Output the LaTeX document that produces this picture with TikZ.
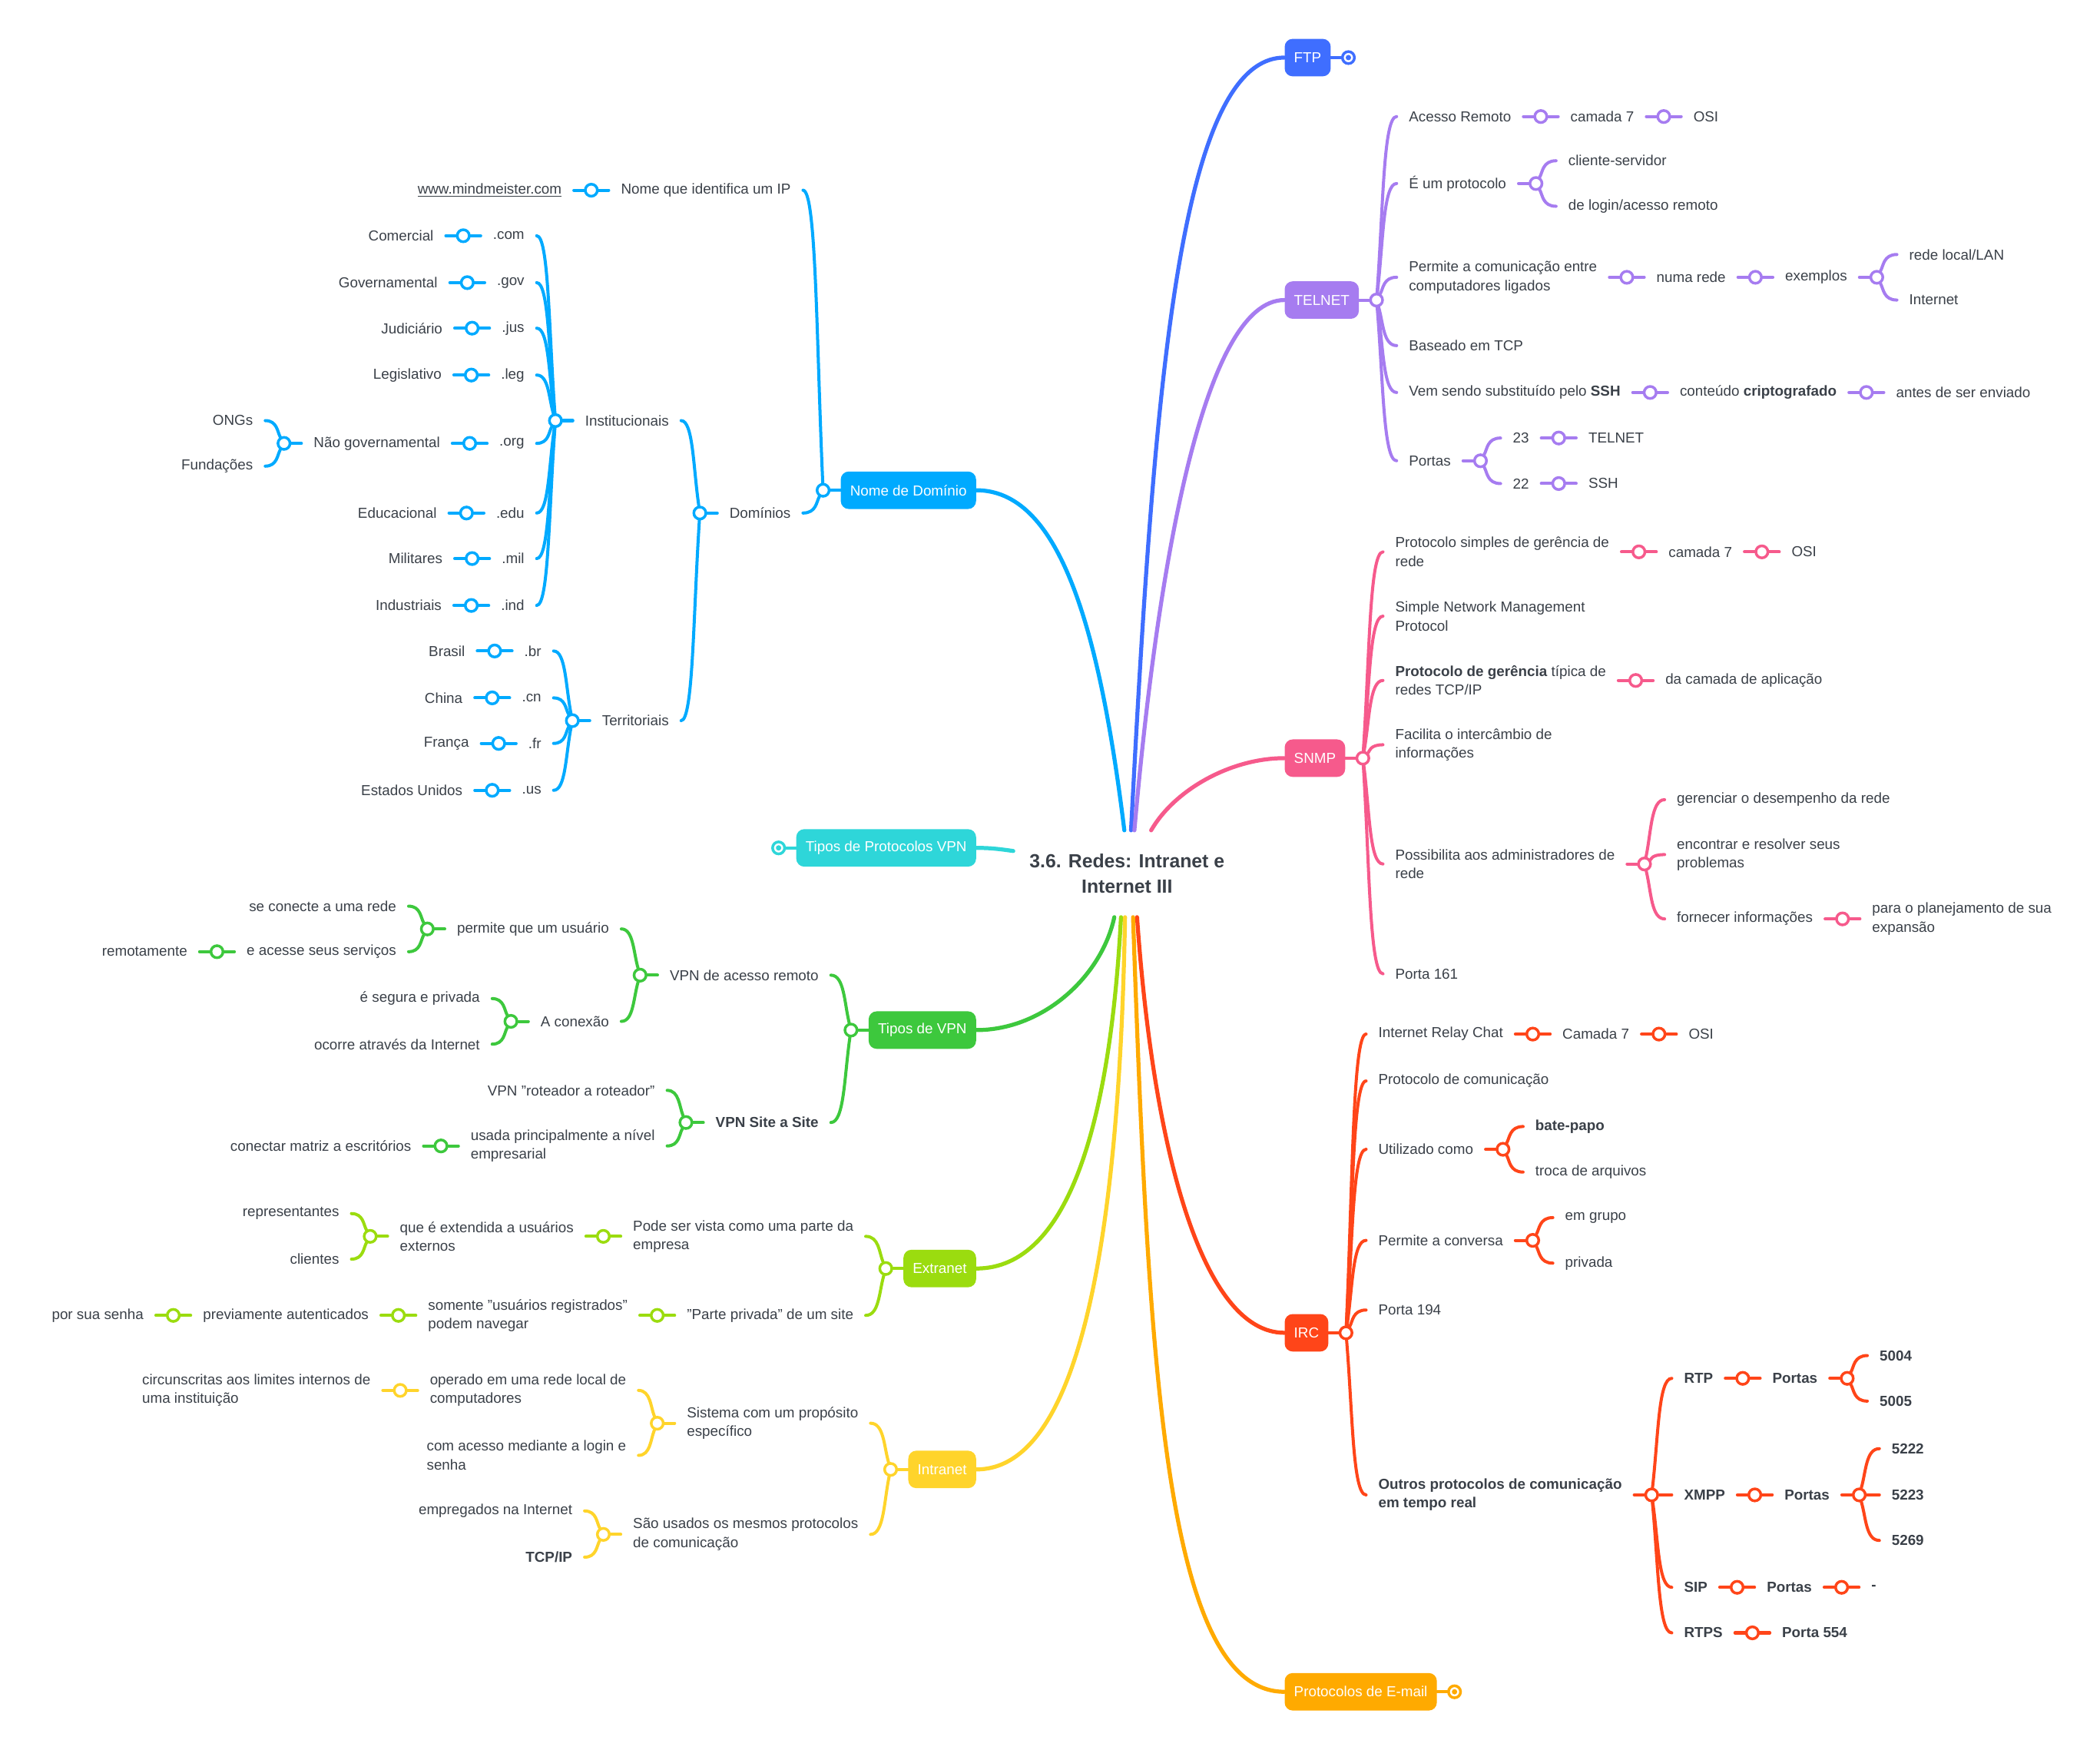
\documentclass[tikz,border=0pt]{standalone}
\usepackage{fontspec}
\setmainfont{Liberation Sans}
\usetikzlibrary{positioning,calc}
\pgfdeclarelayer{fundo}
\pgfsetlayers{fundo,main}
\definecolor{tinta}{HTML}{3A4048}
\definecolor{corDominio}{HTML}{00AAFF}
\definecolor{corFtp}{HTML}{3F6EFF}
\definecolor{corTelnet}{HTML}{A67CF0}
\definecolor{corSnmp}{HTML}{F65A8C}
\definecolor{corProtVpn}{HTML}{2ED6D9}
\definecolor{corVpn}{HTML}{3DC83D}
\definecolor{corExtra}{HTML}{9BDC0F}
\definecolor{corIntra}{HTML}{FFD42B}
\definecolor{corEmail}{HTML}{FFAA00}
\definecolor{corIrc}{HTML}{FF4519}
\colorlet{br}{corDominio}

\begin{document}
\begin{tikzpicture}[
    x=1pt, y=-1pt,
    node distance=7.5pt,
    font=\fontsize{10.8}{14}\selectfont,
    texto/.style={text=tinta, inner xsep=9pt, inner ysep=1pt, align=left},
    negrito/.style={texto, font=\fontsize{10.8}{14}\selectfont\bfseries},
    titulo/.style={text=tinta, align=center, inner xsep=4pt, inner ysep=17.5pt,
      font=\fontsize{14.2}{19}\selectfont\bfseries},
    ramo/.style={fill=br, text=white, rounded corners=6pt, minimum height=28pt,
      inner xsep=7pt, inner ysep=0pt},
    bolinha/.style={circle, draw=br, fill=white, line width=2pt, minimum size=9pt,
      inner sep=0pt},
    fechado/.style={bolinha, path picture={\fill[br] (path picture bounding box.center) circle (2pt);}},
    tronco/.style={draw=br, line width=3pt, line cap=round},
    liga/.style={draw=br, line width=2.3pt, line cap=round},
    galho/.style={to path={let \p1=(\tikztostart), \p2=(\tikztotarget) in
      .. controls ({\x1+#1},{0.5*(\y1+\y2)}) and ({\x1+#1},\y2) .. (\p2)}},
    galho/.default=5pt
  ]
  \useasboundingbox (0,0) rectangle (1568,1306);

  % --- tema central ---
  \node[titulo] (centro) at (841.5,652.3) {3.6. Redes: Intranet e\\Internet III};

  % --- Nome de Domínio ---
  \begin{scope}
    \colorlet{br}{corDominio}
    \node[ramo, anchor=east] (dom) at (729,366) {Nome de Domínio};
    \node[bolinha, left=of dom] (dom-h) {};
    \node[texto, anchor=east] (ident) at ([shift={(-15,-224)}]dom-h.center) {Nome que identifica um IP};
    \node[bolinha, left=of ident] (ident-o) {};
    \node[texto, left=of ident-o] (url) {\underline{www.mindmeister.com}};
    \node[texto, anchor=east] (dmn) at ([shift={(-15,17)}]dom-h.center) {Domínios};
    \node[bolinha, left=of dmn] (dmn-h) {};
    \node[texto, anchor=east] (inst) at ([shift={(-14,-69)}]dmn-h.center) {Institucionais};
    \node[bolinha, left=of inst] (inst-h) {};
    \node[texto, anchor=east] (terr) at ([shift={(-14,155)}]dmn-h.center) {Territoriais};
    \node[bolinha, left=of terr] (terr-h) {};
    \foreach \ext/\setor/\dy [count=\i] in {.com/Comercial/-138, .gov/Governamental/-103,
        .jus/Judiciário/-69, .leg/Legislativo/-34, .org/Não governamental/17,
        .edu/Educacional/69, .mil/Militares/103, .ind/Industriais/138}{
      \node[texto, anchor=east] (ext\i) at ([shift={(-14,\dy)}]inst-h.center) {\ext};
      \node[bolinha, left=of ext\i] (ext\i-o) {};
      \node[texto, left=of ext\i-o] (set\i) {\setor};
    }
    \node[bolinha, left=of set5] (set5-h) {};
    \node[texto, anchor=east] (ongs) at ([shift={(-14,-17)}]set5-h.center) {ONGs};
    \node[texto, anchor=east] (fund) at ([shift={(-14,17)}]set5-h.center) {Fundações};
    \foreach \pais/\tld/\dy [count=\i] in {Brasil/.br/-52, China/.cn/-17, França/.fr/17,
        Estados Unidos/.us/52}{
      \node[texto, anchor=east] (tld\i) at ([shift={(-14,\dy)}]terr-h.center) {\tld};
      \node[bolinha, left=of tld\i] (tld\i-o) {};
      \node[texto, left=of tld\i-o] (pais\i) {\pais};
    }
    \begin{pgfonlayer}{fundo}
      \draw[tronco] ([xshift=-2pt]centro.north) to[out=97, in=0, out distance=160pt, in distance=60pt] (dom.east);
      \draw[liga] (dom.west) -- (dom-h);
      \foreach \f in {ident, dmn} \draw[liga] (dom-h) to[galho=-5pt] (\f.east);
      \draw[liga] (url.east) -- (ident.west);
      \draw[liga] (dmn.west) -- (dmn-h);
      \foreach \f in {inst, terr} \draw[liga] (dmn-h) to[galho=-5pt] (\f.east);
      \draw[liga] (inst.west) -- (inst-h);
      \draw[liga] (terr.west) -- (terr-h);
      \foreach \i in {1,...,8}{
        \draw[liga] (inst-h) to[galho=-5pt] (ext\i.east);
        \draw[liga] (set\i.east) -- (ext\i.west);
      }
      \draw[liga] (set5.west) -- (set5-h);
      \foreach \f in {ongs, fund} \draw[liga] (set5-h) to[galho=-5pt] (\f.east);
      \foreach \i in {1,...,4}{
        \draw[liga] (terr-h) to[galho=-5pt] (tld\i.east);
        \draw[liga] (pais\i.east) -- (tld\i.west);
      }
    \end{pgfonlayer}
  \end{scope}

  % --- FTP ---
  \begin{scope}
    \colorlet{br}{corFtp}
    \node[ramo, anchor=west] (ftp) at (959,43) {FTP};
    \node[fechado, right=of ftp] (ftp-o) {};
    \begin{pgfonlayer}{fundo}
      \draw[tronco] ([xshift=3pt]centro.north) to[out=87, in=180, out distance=320pt, in distance=80pt] (ftp.west);
      \draw[liga] (ftp.east) -- (ftp-o);
    \end{pgfonlayer}
  \end{scope}

  % --- TELNET ---
  \begin{scope}
    \colorlet{br}{corTelnet}
    \node[ramo, anchor=west] (tel) at (959,224) {TELNET};
    \node[bolinha, right=of tel] (tel-h) {};
    \foreach \nome/\dy/\txt in {acr/-137/Acesso Remoto, eup/-87/É um protocolo,
        pce/-17/{Permite a comunicação entre\\computadores ligados}, btc/34/Baseado em TCP,
        vss/69/{Vem sendo substituído pelo \textbf{SSH}}, tpo/120/Portas}
      \node[texto, anchor=west] (\nome) at ([shift={(15,\dy)}]tel-h.center) {\txt};
    \node[bolinha, right=of acr] (acr-o) {};
    \node[texto, right=of acr-o] (acr-c7) {camada 7};
    \node[bolinha, right=of acr-c7] (acr-c7-o) {};
    \node[texto, right=of acr-c7-o] (acr-osi) {OSI};
    \node[bolinha, right=of eup] (eup-h) {};
    \node[texto, anchor=west] (cls) at ([shift={(15,-17)}]eup-h.center) {cliente-servidor};
    \node[texto, anchor=west] (lgn) at ([shift={(15,17)}]eup-h.center) {de login/acesso remoto};
    \node[bolinha, right=of pce] (pce-o) {};
    \node[texto, right=of pce-o] (nrd) {numa rede};
    \node[bolinha, right=of nrd] (nrd-o) {};
    \node[texto, right=of nrd-o] (exe) {exemplos};
    \node[bolinha, right=of exe] (exe-h) {};
    \node[texto, anchor=west] (lan) at ([shift={(15,-17)}]exe-h.center) {rede local/LAN};
    \node[texto, anchor=west] (inet) at ([shift={(15,17)}]exe-h.center) {Internet};
    \node[bolinha, right=of vss] (vss-o) {};
    \node[texto, right=of vss-o] (cri) {conteúdo \textbf{criptografado}};
    \node[bolinha, right=of cri] (cri-o) {};
    \node[texto, right=of cri-o] (env) {antes de ser enviado};
    \node[bolinha, right=of tpo] (tpo-h) {};
    \node[texto, anchor=west] (p23) at ([shift={(15,-17)}]tpo-h.center) {23};
    \node[texto, anchor=west] (p22) at ([shift={(15,17)}]tpo-h.center) {22};
    \node[bolinha, right=of p23] (p23-o) {};
    \node[texto, right=of p23-o] (p23t) {TELNET};
    \node[bolinha, right=of p22] (p22-o) {};
    \node[texto, right=of p22-o] (p22t) {SSH};
    \begin{pgfonlayer}{fundo}
      \draw[tronco] ([xshift=5.5pt]centro.north) to[out=85, in=180, out distance=200pt, in distance=60pt] (tel.west);
      \draw[liga] (tel.east) -- (tel-h);
      \foreach \f in {acr, eup, pce, btc, vss, tpo} \draw[liga] (tel-h) to[galho] (\f.west);
      \draw[liga] (acr.east) -- (acr-c7.west);
      \draw[liga] (acr-c7.east) -- (acr-osi.west);
      \draw[liga] (eup.east) -- (eup-h);
      \foreach \f in {cls, lgn} \draw[liga] (eup-h) to[galho] (\f.west);
      \draw[liga] (pce.east) -- (nrd.west);
      \draw[liga] (nrd.east) -- (exe.west);
      \draw[liga] (exe.east) -- (exe-h);
      \foreach \f in {lan, inet} \draw[liga] (exe-h) to[galho] (\f.west);
      \draw[liga] (vss.east) -- (cri.west);
      \draw[liga] (cri.east) -- (env.west);
      \draw[liga] (tpo.east) -- (tpo-h);
      \foreach \f in {p23, p22} \draw[liga] (tpo-h) to[galho] (\f.west);
      \draw[liga] (p23.east) -- (p23t.west);
      \draw[liga] (p22.east) -- (p22t.west);
    \end{pgfonlayer}
  \end{scope}

  % --- SNMP ---
  \begin{scope}
    \colorlet{br}{corSnmp}
    \node[ramo, anchor=west] (snmp) at (959,566) {SNMP};
    \node[bolinha, right=of snmp] (snmp-h) {};
    \foreach \nome/\dy/\txt in {psg/-154/{Protocolo simples de gerência de\\rede},
        snm/-106/{Simple Network Management\\Protocol},
        pdg/-58/{\textbf{Protocolo de gerência} típica de\\redes TCP/IP},
        fic/-10/{Facilita o intercâmbio de\\informações},
        pad/79/{Possibilita aos administradores de\\rede}, p161/161/Porta 161}
      \node[texto, anchor=west] (\nome) at ([shift={(15,\dy)}]snmp-h.center) {\txt};
    \node[bolinha, right=of psg] (psg-o) {};
    \node[texto, right=of psg-o] (psg-c7) {camada 7};
    \node[bolinha, right=of psg-c7] (psg-c7-o) {};
    \node[texto, right=of psg-c7-o] (psg-osi) {OSI};
    \node[bolinha, right=of pdg] (pdg-o) {};
    \node[texto, right=of pdg-o] (apl) {da camada de aplicação};
    \node[bolinha, right=of pad] (pad-h) {};
    \node[texto, anchor=west] (ger) at ([shift={(15,-48)}]pad-h.center) {gerenciar o desempenho da rede};
    \node[texto, anchor=west] (enc) at ([shift={(15,-7)}]pad-h.center) {encontrar e resolver seus\\problemas};
    \node[texto, anchor=west] (forn) at ([shift={(15,41)}]pad-h.center) {fornecer informações};
    \node[bolinha, right=of forn] (forn-o) {};
    \node[texto, right=of forn-o] (plan) {para o planejamento de sua\\expansão};
    \begin{pgfonlayer}{fundo}
      \draw[tronco] ([xshift=18pt]centro.north) to[out=60, in=180, out distance=35pt, in distance=40pt] (snmp.west);
      \draw[liga] (snmp.east) -- (snmp-h);
      \foreach \f in {psg, snm, pdg, fic, pad, p161} \draw[liga] (snmp-h) to[galho] (\f.west);
      \draw[liga] (psg.east) -- (psg-c7.west);
      \draw[liga] (psg-c7.east) -- (psg-osi.west);
      \draw[liga] (pdg.east) -- (apl.west);
      \draw[liga] (pad.east) -- (pad-h);
      \foreach \f in {ger, enc, forn} \draw[liga] (pad-h) to[galho] (\f.west);
      \draw[liga] (forn.east) -- (plan.west);
    \end{pgfonlayer}
  \end{scope}

  % --- IRC ---
  \begin{scope}
    \colorlet{br}{corIrc}
    \node[ramo, anchor=west] (irc) at (959,995) {IRC};
    \node[bolinha, right=of irc] (irc-h) {};
    \foreach \nome/\dy/\txt in {irc1/-223/Internet Relay Chat, irc2/-188/Protocolo de comunicação,
        irc3/-137/Utilizado como, irc4/-69/Permite a conversa, irc5/-17/Porta 194}
      \node[texto, anchor=west] (\nome) at ([shift={(15,\dy)}]irc-h.center) {\txt};
    \node[negrito, anchor=west] (otr) at ([shift={(15,121)}]irc-h.center) {Outros protocolos de comunicação\\em tempo real};
    \node[bolinha, right=of irc1] (irc1-o) {};
    \node[texto, right=of irc1-o] (irc-c7) {Camada 7};
    \node[bolinha, right=of irc-c7] (irc-c7-o) {};
    \node[texto, right=of irc-c7-o] (irc-osi) {OSI};
    \node[bolinha, right=of irc3] (irc3-h) {};
    \node[negrito, anchor=west] (bpp) at ([shift={(15,-17)}]irc3-h.center) {bate-papo};
    \node[texto, anchor=west] (arq) at ([shift={(15,17)}]irc3-h.center) {troca de arquivos};
    \node[bolinha, right=of irc4] (irc4-h) {};
    \node[texto, anchor=west] (grp) at ([shift={(15,-17)}]irc4-h.center) {em grupo};
    \node[texto, anchor=west] (prv) at ([shift={(15,17)}]irc4-h.center) {privada};
    \node[bolinha, right=of otr] (otr-h) {};
    \foreach \nome/\dy in {RTP/-87, XMPP/0, SIP/69, RTPS/103}
      \node[negrito, anchor=west] (\nome) at ([shift={(15,\dy)}]otr-h.center) {\nome};
    \foreach \nome in {RTP, XMPP, SIP}{
      \node[bolinha, right=of \nome] (\nome-o) {};
      \node[negrito, right=of \nome-o] (\nome-p) {Portas};
      \node[bolinha, right=of \nome-p] (\nome-h) {};
    }
    \node[negrito, anchor=west] (p5004) at ([shift={(15,-17)}]RTP-h.center) {5004};
    \node[negrito, anchor=west] (p5005) at ([shift={(15,17)}]RTP-h.center) {5005};
    \node[negrito, anchor=west] (p5222) at ([shift={(15,-34.5)}]XMPP-h.center) {5222};
    \node[negrito, anchor=west] (p5223) at ([shift={(15,0)}]XMPP-h.center) {5223};
    \node[negrito, anchor=west] (p5269) at ([shift={(15,34)}]XMPP-h.center) {5269};
    \node[negrito, right=of SIP-h] (sip-x) {-};
    \node[bolinha, right=of RTPS] (RTPS-o) {};
    \node[negrito, right=of RTPS-o] (p554) {Porta 554};
    \begin{pgfonlayer}{fundo}
      \draw[tronco] ([xshift=7.5pt]centro.south) to[out=-86, in=180, out distance=180pt, in distance=60pt] (irc.west);
      \draw[liga] (irc.east) -- (irc-h);
      \foreach \f in {irc1, irc2, irc3, irc4, irc5, otr} \draw[liga] (irc-h) to[galho] (\f.west);
      \draw[liga] (irc1.east) -- (irc-c7.west);
      \draw[liga] (irc-c7.east) -- (irc-osi.west);
      \draw[liga] (irc3.east) -- (irc3-h);
      \foreach \f in {bpp, arq} \draw[liga] (irc3-h) to[galho] (\f.west);
      \draw[liga] (irc4.east) -- (irc4-h);
      \foreach \f in {grp, prv} \draw[liga] (irc4-h) to[galho] (\f.west);
      \draw[liga] (otr.east) -- (otr-h);
      \foreach \f in {RTP, XMPP, SIP, RTPS} \draw[liga] (otr-h) to[galho] (\f.west);
      \foreach \f in {RTP, XMPP, SIP} \draw[liga] (\f.east) -- (\f-p.west);
      \draw[liga] (RTP-p.east) -- (RTP-h);
      \foreach \f in {p5004, p5005} \draw[liga] (RTP-h) to[galho] (\f.west);
      \draw[liga] (XMPP-p.east) -- (XMPP-h);
      \foreach \f in {p5222, p5223, p5269} \draw[liga] (XMPP-h) to[galho] (\f.west);
      \draw[liga] (SIP-p.east) -- (sip-x.west);
      \draw[liga] (RTPS.east) -- (p554.west);
    \end{pgfonlayer}
  \end{scope}

  % --- Protocolos de E-mail ---
  \begin{scope}
    \colorlet{br}{corEmail}
    \node[ramo, anchor=west] (mail) at (959,1263) {Protocolos de E-mail};
    \node[fechado, right=of mail] (mail-o) {};
    \begin{pgfonlayer}{fundo}
      \draw[tronco] ([xshift=4.5pt]centro.south) to[out=-88, in=180, out distance=330pt, in distance=90pt] (mail.west);
      \draw[liga] (mail.east) -- (mail-o);
    \end{pgfonlayer}
  \end{scope}

  % --- Tipos de Protocolos VPN ---
  \begin{scope}
    \colorlet{br}{corProtVpn}
    \node[ramo, anchor=east] (pvpn) at (729,633) {Tipos de Protocolos VPN};
    \node[fechado, left=of pvpn] (pvpn-o) {};
    \begin{pgfonlayer}{fundo}
      \draw[tronco] (pvpn.east) to[out=0, in=172] ([xshift=-8pt,yshift=17pt]centro.west);
      \draw[liga] (pvpn.west) -- (pvpn-o);
    \end{pgfonlayer}
  \end{scope}

  % --- Tipos de VPN ---
  \begin{scope}
    \colorlet{br}{corVpn}
    \node[ramo, anchor=east] (tvpn) at (729,769) {Tipos de VPN};
    \node[bolinha, left=of tvpn] (tvpn-h) {};
    \node[texto, anchor=east] (var) at ([shift={(-15,-41)}]tvpn-h.center) {VPN de acesso remoto};
    \node[negrito, anchor=east] (sas) at ([shift={(-15,69)}]tvpn-h.center) {VPN Site a Site};
    \node[bolinha, left=of var] (var-h) {};
    \node[texto, anchor=east] (pqu) at ([shift={(-14,-34.5)}]var-h.center) {permite que um usuário};
    \node[texto, anchor=east] (acx) at ([shift={(-14,34.5)}]var-h.center) {A conexão};
    \node[bolinha, left=of pqu] (pqu-h) {};
    \node[texto, anchor=east] (scr) at ([shift={(-14,-17)}]pqu-h.center) {se conecte a uma rede};
    \node[texto, anchor=east] (ass) at ([shift={(-14,17)}]pqu-h.center) {e acesse seus serviços};
    \node[bolinha, left=of ass] (ass-o) {};
    \node[texto, left=of ass-o] (rem) {remotamente};
    \node[bolinha, left=of acx] (acx-h) {};
    \node[texto, anchor=east] (sgp) at ([shift={(-14,-17)}]acx-h.center) {é segura e privada};
    \node[texto, anchor=east] (oai) at ([shift={(-14,17)}]acx-h.center) {ocorre através da Internet};
    \node[bolinha, left=of sas] (sas-h) {};
    \node[texto, anchor=east] (rar) at ([shift={(-14,-24)}]sas-h.center) {VPN "roteador a roteador"};
    \node[texto, anchor=east] (upn) at ([shift={(-14,17.5)}]sas-h.center) {usada principalmente a nível\\empresarial};
    \node[bolinha, left=of upn] (upn-o) {};
    \node[texto, left=of upn-o] (cme) {conectar matriz a escritórios};
    \begin{pgfonlayer}{fundo}
      \draw[tronco] ([xshift=-9.5pt]centro.south) to[out=-102, in=0, out distance=45pt, in distance=50pt] (tvpn.east);
      \draw[liga] (tvpn.west) -- (tvpn-h);
      \foreach \f in {var, sas} \draw[liga] (tvpn-h) to[galho=-5pt] (\f.east);
      \draw[liga] (var.west) -- (var-h);
      \foreach \f in {pqu, acx} \draw[liga] (var-h) to[galho=-5pt] (\f.east);
      \draw[liga] (pqu.west) -- (pqu-h);
      \foreach \f in {scr, ass} \draw[liga] (pqu-h) to[galho=-5pt] (\f.east);
      \draw[liga] (rem.east) -- (ass.west);
      \draw[liga] (acx.west) -- (acx-h);
      \foreach \f in {sgp, oai} \draw[liga] (acx-h) to[galho=-5pt] (\f.east);
      \draw[liga] (sas.west) -- (sas-h);
      \foreach \f in {rar, upn} \draw[liga] (sas-h) to[galho=-5pt] (\f.east);
      \draw[liga] (cme.east) -- (upn.west);
    \end{pgfonlayer}
  \end{scope}

  % --- Extranet ---
  \begin{scope}
    \colorlet{br}{corExtra}
    \node[ramo, anchor=east] (xnet) at (729,947) {Extranet};
    \node[bolinha, left=of xnet] (xnet-h) {};
    \node[texto, anchor=east] (psv) at ([shift={(-15,-24)}]xnet-h.center) {Pode ser vista como uma parte da\\empresa};
    \node[bolinha, left=of psv] (psv-o) {};
    \node[texto, left=of psv-o] (ueu) {que é extendida a usuários\\externos};
    \node[bolinha, left=of ueu] (ueu-h) {};
    \node[texto, anchor=east] (rep) at ([shift={(-14,-17)}]ueu-h.center) {representantes};
    \node[texto, anchor=east] (clt) at ([shift={(-14,17)}]ueu-h.center) {clientes};
    \node[texto, anchor=east] (ppv) at ([shift={(-15,35)}]xnet-h.center) {"Parte privada" de um site};
    \node[bolinha, left=of ppv] (ppv-o) {};
    \node[texto, left=of ppv-o] (sur) {somente "usuários registrados"\\podem navegar};
    \node[bolinha, left=of sur] (sur-o) {};
    \node[texto, left=of sur-o] (pva) {previamente autenticados};
    \node[bolinha, left=of pva] (pva-o) {};
    \node[texto, left=of pva-o] (pss) {por sua senha};
    \begin{pgfonlayer}{fundo}
      \draw[tronco] ([xshift=-4.5pt]centro.south) to[out=-93, in=0, out distance=150pt, in distance=70pt] (xnet.east);
      \draw[liga] (xnet.west) -- (xnet-h);
      \foreach \f in {psv, ppv} \draw[liga] (xnet-h) to[galho=-5pt] (\f.east);
      \draw[liga] (ueu.east) -- (psv.west);
      \draw[liga] (ueu.west) -- (ueu-h);
      \foreach \f in {rep, clt} \draw[liga] (ueu-h) to[galho=-5pt] (\f.east);
      \draw[liga] (sur.east) -- (ppv.west);
      \draw[liga] (pva.east) -- (sur.west);
      \draw[liga] (pss.east) -- (pva.west);
    \end{pgfonlayer}
  \end{scope}

  % --- Intranet ---
  \begin{scope}
    \colorlet{br}{corIntra}
    \node[ramo, anchor=east] (intr) at (729,1097) {Intranet};
    \node[bolinha, left=of intr] (intr-h) {};
    \node[texto, anchor=east] (scp) at ([shift={(-15,-34.5)}]intr-h.center) {Sistema com um propósito\\específico};
    \node[bolinha, left=of scp] (scp-h) {};
    \node[texto, anchor=east] (orl) at ([shift={(-14,-24.5)}]scp-h.center) {operado em uma rede local de\\computadores};
    \node[texto, anchor=east] (cal) at ([shift={(-14,24)}]scp-h.center) {com acesso mediante a login e\\senha};
    \node[bolinha, left=of orl] (orl-o) {};
    \node[texto, left=of orl-o] (cir) {circunscritas aos limites internos de\\uma instituição};
    \node[texto, anchor=east] (smp) at ([shift={(-15,48.5)}]intr-h.center) {São usados os mesmos protocolos\\de comunicação};
    \node[bolinha, left=of smp] (smp-h) {};
    \node[texto, anchor=east] (emp) at ([shift={(-14,-17.5)}]smp-h.center) {empregados na Internet};
    \node[negrito, anchor=east] (tcp) at ([shift={(-14,17)}]smp-h.center) {TCP/IP};
    \begin{pgfonlayer}{fundo}
      \draw[tronco] ([xshift=-1.5pt]centro.south) to[out=-91, in=0, out distance=250pt, in distance=75pt] (intr.east);
      \draw[liga] (intr.west) -- (intr-h);
      \foreach \f in {scp, smp} \draw[liga] (intr-h) to[galho=-5pt] (\f.east);
      \draw[liga] (scp.west) -- (scp-h);
      \foreach \f in {orl, cal} \draw[liga] (scp-h) to[galho=-5pt] (\f.east);
      \draw[liga] (cir.east) -- (orl.west);
      \draw[liga] (smp.west) -- (smp-h);
      \foreach \f in {emp, tcp} \draw[liga] (smp-h) to[galho=-5pt] (\f.east);
    \end{pgfonlayer}
  \end{scope}
\end{tikzpicture}
\end{document}
